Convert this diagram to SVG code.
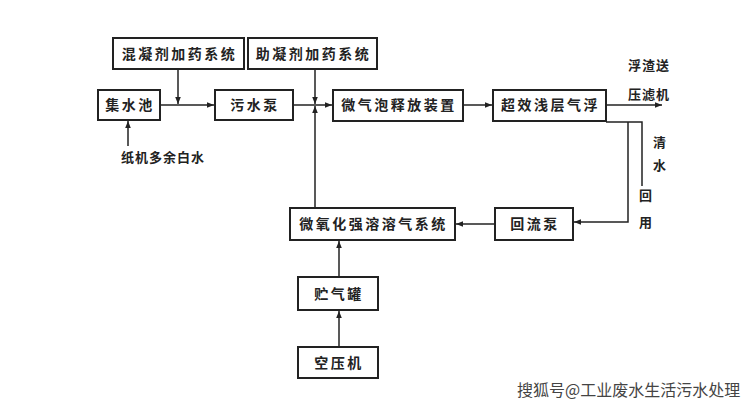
<svg xmlns="http://www.w3.org/2000/svg" width="745" height="410" viewBox="0 0 745 410">
<style>
.box{fill:#fff;stroke:#222;stroke-width:2}
.t{font-family:"Noto Sans CJK SC","Noto Sans",sans-serif;font-size:14px;font-weight:bold;fill:#222;text-anchor:middle;letter-spacing:2.5px}
.l{font-family:"Noto Sans CJK SC","Noto Sans",sans-serif;font-size:13px;font-weight:bold;fill:#222;text-anchor:middle;letter-spacing:1px}
.c{fill:none;stroke:#222;stroke-width:1.5}
.wm{font-family:"Noto Sans CJK SC","Noto Sans",sans-serif;font-size:16px;fill:#444;stroke:#fff;stroke-width:0.6;paint-order:stroke}
</style>
<defs>
<marker id="a" viewBox="0 0 10 10" refX="10" refY="5" markerWidth="7" markerHeight="7" orient="auto" markerUnits="userSpaceOnUse"><path d="M0,1L10,5L0,9z" fill="#222"/></marker>
</defs>
<rect width="745" height="410" fill="#fff"/>
<g id="connectors">
<path class="c" d="M178,69V104" marker-end="url(#a)"/>
<path class="c" d="M160,105H214" marker-end="url(#a)"/>
<path class="c" d="M293,105H332" marker-end="url(#a)"/>
<path class="c" d="M315,69V104" marker-end="url(#a)"/>
<path class="c" d="M315,208V106" marker-end="url(#a)"/>
<path class="c" d="M463,105H492" marker-end="url(#a)"/>
<path class="c" d="M606,105H662" marker-end="url(#a)"/>
<path class="c" d="M606,122H642V186"/>
<path class="c" d="M628,122V222H574" marker-end="url(#a)"/>
<path class="c" d="M495,224H456" marker-end="url(#a)"/>
<path class="c" d="M339,277V241" marker-end="url(#a)"/>
<path class="c" d="M339,347V311" marker-end="url(#a)"/>
<path class="c" d="M128,146V121" marker-end="url(#a)"/>
</g>
<g id="n1"><rect class="box" x="113" y="38" width="131" height="31"/><text class="t" x="179.5" y="59">混凝剂加药系统</text></g>
<g id="n2"><rect class="box" x="248" y="38" width="129" height="31"/><text class="t" x="313.5" y="59">助凝剂加药系统</text></g>
<g id="n3"><rect class="box" x="98" y="90" width="62" height="30"/><text class="t" x="130" y="110">集水池</text></g>
<g id="n4"><rect class="box" x="215" y="90" width="78" height="30"/><text class="t" x="255" y="110">污水泵</text></g>
<g id="n5"><rect class="box" x="333" y="90" width="130" height="31"/><text class="t" x="399" y="110">微气泡释放装置</text></g>
<g id="n6"><rect class="box" x="493" y="90" width="113" height="31"/><text class="t" x="550.5" y="110">超效浅层气浮</text></g>
<g id="n7"><rect class="box" x="290" y="208" width="165" height="32"/><text class="t" x="373.5" y="229">微氧化强溶溶气系统</text></g>
<g id="n8"><rect class="box" x="495" y="208" width="78" height="32"/><text class="t" x="535" y="229">回流泵</text></g>
<g id="n9"><rect class="box" x="298" y="277" width="80" height="33"/><text class="t" x="339" y="299">贮气罐</text></g>
<g id="n10"><rect class="box" x="298" y="347" width="80" height="31"/><text class="t" x="339" y="368">空压机</text></g>
<g id="labels">
<text class="l" x="163" y="162">纸机多余白水</text>
<text class="l" x="649" y="70">浮渣送</text>
<text class="l" x="649" y="99">压滤机</text>
<text class="l" x="660" y="147">清</text>
<text class="l" x="660" y="170">水</text>
<text class="l" x="646" y="200">回</text>
<text class="l" x="646" y="227">用</text>
<text class="wm" x="517" y="396">搜狐号@工业废水生活污水处理</text>
</g>
</svg>
